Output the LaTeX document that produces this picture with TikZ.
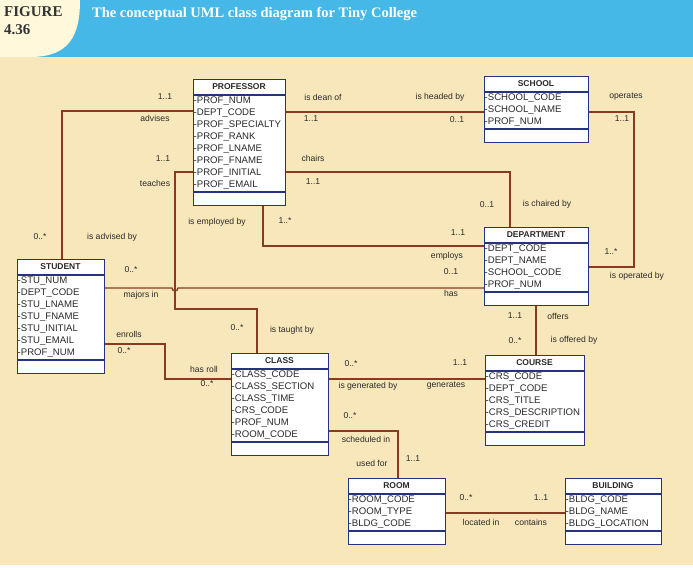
\documentclass[tikz,border=0pt]{standalone}
\usepackage{fontspec}
\setmainfont{Liberation Sans}
\newfontfamily\titlefont{Liberation Serif}
\begin{document}
\definecolor{bg}{HTML}{F8E7BA}
\definecolor{hdr}{HTML}{45B8E8}
\definecolor{pale}{HTML}{FFF8DA}
\definecolor{conn}{HTML}{8A3A20}
\definecolor{bord}{HTML}{27337F}
\definecolor{txt}{HTML}{2A2A2A}
\newcommand\cls[6]{%
  \xdef\nattr{0}%
  \foreach \a in {#6}{\xdef\nattr{\the\numexpr\nattr+1\relax}}%
  \pgfmathsetmacro\hh{30+\nattr*12}%
  \node[box,minimum width=#4pt,minimum height=\hh pt,anchor=north west] (#1) at (#2,#3) {};
  \draw[sep] (#2,{#3+16}) -- ++(#4,0);
  \node[ctitle] (#1-t) at ({#2+#4/2},{#3+8}) {#5};
  \foreach \a [count=\i] in {#6}
    \node[attr] (#1-a\i) at ({#2+0.5},{#3+16+(\i-0.5)*12}) {-\a};
  \draw[sep] (#2,{#3+17+\nattr*12}) -- ++(#4,0);
}
\begin{tikzpicture}[x=1pt,y=-1pt,
  box/.style={draw=bord,fill=white,line width=1.1pt,inner sep=0pt},
  sep/.style={draw=bord,line width=1.1pt},
  ctitle/.style={font=\fontsize{8.5}{9}\selectfont\bfseries,text=txt},
  attr/.style={font=\fontsize{9.6}{10}\selectfont,text=txt,anchor=west,inner sep=0pt},
  lbl/.style={font=\fontsize{8.6}{9}\selectfont,text=txt,inner sep=0pt},
  con/.style={draw=conn,line width=1.3pt}]
\useasboundingbox (0,0) rectangle (693,570);
\fill[white] (0,0) rectangle (693,570);
\fill[bg] (0,57) rectangle (693,565);
\fill[hdr] (0,0) rectangle (693,57);
\fill[pale] (0,0) -- (80,0) .. controls (80,35) and (70,57) .. (30,57) -- (0,57) -- cycle;
\node[anchor=north west,align=left,font=\titlefont\bfseries\fontsize{15}{15}\selectfont,text=black!80,inner sep=0pt] (fig) at (4,6) {FIGURE\\[3pt]4.36};
\node[anchor=west,font=\titlefont\bfseries\fontsize{14.5}{15}\selectfont,text=white,inner sep=0pt] (ttl) at (92,14) {The conceptual UML class diagram for Tiny College};

\coordinate (c1) at (62,111);
\coordinate (c2a) at (175,172);
\coordinate (c2b) at (175,309);
\coordinate (c2c) at (257,309);
\coordinate (c4) at (510,172);
\coordinate (c5a) at (263,246);
\coordinate (c7a) at (634,112);
\coordinate (c7b) at (634,267);
\coordinate (c9a) at (165,344);
\coordinate (c9b) at (165,379);
\coordinate (c11) at (398,431);

\cls{prof}{193}{79}{92}{PROFESSOR}{PROF\_NUM,DEPT\_CODE,PROF\_SPECIALTY,PROF\_RANK,PROF\_LNAME,PROF\_FNAME,PROF\_INITIAL,PROF\_EMAIL}
\cls{school}{484}{76}{104}{SCHOOL}{SCHOOL\_CODE,SCHOOL\_NAME,PROF\_NUM}
\cls{dept}{484}{227}{104}{DEPARTMENT}{DEPT\_CODE,DEPT\_NAME,SCHOOL\_CODE,PROF\_NUM}
\cls{stu}{17}{259}{87}{STUDENT}{STU\_NUM,DEPT\_CODE,STU\_LNAME,STU\_FNAME,STU\_INITIAL,STU\_EMAIL,PROF\_NUM}
\cls{class}{231}{353}{97}{CLASS}{CLASS\_CODE,CLASS\_SECTION,CLASS\_TIME,CRS\_CODE,PROF\_NUM,ROOM\_CODE}
\cls{course}{485}{355}{99}{COURSE}{CRS\_CODE,DEPT\_CODE,CRS\_TITLE,CRS\_DESCRIPTION,CRS\_CREDIT}
\cls{room}{348}{478}{97}{ROOM}{ROOM\_CODE,ROOM\_TYPE,BLDG\_CODE}
\cls{bldg}{565}{478}{96}{BUILDING}{BLDG\_CODE,BLDG\_NAME,BLDG\_LOCATION}

\draw[con] (prof.west |- c1) -- (c1) -- (c1 |- stu.north);
\draw[con] (prof.west |- c2a) -- (c2a) -- (c2b) -- (c2c) -- (c2c |- class.north);
\draw[con] (prof.east |- 0,112) -- (school.west |- 0,112);
\draw[con] (prof.east |- c4) -- (c4) -- (c4 |- dept.north);
\draw[con] (prof.south -| c5a) -- (c5a) -- (dept.west |- c5a);
\draw[con] (stu.east |- 0,288) -- (172,288) arc (180:0:3) -- (dept.west |- 0,288);
\draw[con] (school.east |- c7a) -- (c7a) -- (c7b) -- (dept.east |- c7b);
\draw[con] (dept.south -| 536,0) -- (course.north -| 536,0);
\draw[con] (stu.east |- c9a) -- (c9a) -- (c9b) -- (class.west |- c9b);
\draw[con] (class.east |- 0,379) -- (course.west |- 0,379);
\draw[con] (class.east |- c11) -- (c11) -- (c11 |- room.north);
\draw[con] (room.east |- 0,513) -- (bldg.west |- 0,513);

\node[lbl] (l1) at (165,97) {1..1};
\node[lbl] (l2) at (155,118) {advises};
\node[lbl] (l3) at (163,159) {1..1};
\node[lbl] (l4) at (155,183) {teaches};
\node[lbl] (l5) at (323,97) {is dean of};
\node[lbl] (l6) at (311,119) {1..1};
\node[lbl] (l7) at (313,158) {chairs};
\node[lbl] (l8) at (313,182) {1..1};
\node[lbl] (l9) at (440,97) {is headed by};
\node[lbl] (l10) at (457,120) {0..1};
\node[lbl] (l11) at (626,97) {operates};
\node[lbl] (l12) at (622,119) {1..1};
\node[lbl] (l13) at (217,222) {is employed by};
\node[lbl] (l14) at (285,221) {1..*};
\node[lbl] (l15) at (487,205) {0..1};
\node[lbl] (l16) at (547,204) {is chaired by};
\node[lbl] (l17) at (458,233) {1..1};
\node[lbl] (l18) at (447,256) {employs};
\node[lbl] (l19) at (451,272) {0..1};
\node[lbl] (l20) at (451,293) {has};
\node[lbl] (l21) at (611,252) {1..*};
\node[lbl] (l22) at (637,276) {is operated by};
\node[lbl] (l23) at (40,237) {0..*};
\node[lbl] (l24) at (112,237) {is advised by};
\node[lbl] (l25) at (131,270) {0..*};
\node[lbl] (l26) at (141,295) {majors in};
\node[lbl] (l27) at (237,328) {0..*};
\node[lbl] (l28) at (292,330) {is taught by};
\node[lbl] (l29) at (129,334) {enrolls};
\node[lbl] (l30) at (124,351) {0..*};
\node[lbl] (l31) at (204,369) {has roll};
\node[lbl] (l32) at (207,384) {0..*};
\node[lbl] (l33) at (351,364) {0..*};
\node[lbl] (l34) at (460,363) {1..1};
\node[lbl] (l35) at (368,386) {is generated by};
\node[lbl] (l36) at (446,386) {generates};
\node[lbl] (l37) at (515,316) {1..1};
\node[lbl] (l38) at (558,316) {offers};
\node[lbl] (l39) at (515,341) {0..*};
\node[lbl] (l40) at (574,340) {is offered by};
\node[lbl] (l41) at (350,416) {0..*};
\node[lbl] (l42) at (366,439) {scheduled in};
\node[lbl] (l43) at (372,463) {used for};
\node[lbl] (l44) at (413,459) {1..1};
\node[lbl] (l45) at (466,498) {0..*};
\node[lbl] (l46) at (541,498) {1..1};
\node[lbl] (l47) at (481,522) {located in};
\node[lbl] (l48) at (531,522) {contains};
\end{tikzpicture}
\end{document}
